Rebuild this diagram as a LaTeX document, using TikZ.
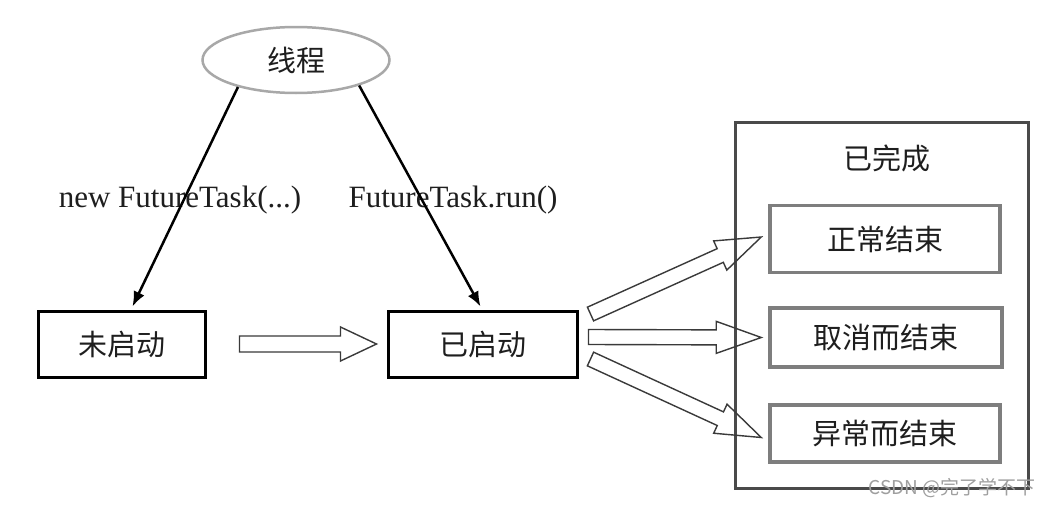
\documentclass[tikz,border=0pt]{standalone}
\usepackage{fontspec}
\setmainfont{Liberation Serif}
\newfontfamily\cjk{Noto Sans CJK SC}
\usetikzlibrary{calc,arrows.meta,shapes.geometric}
\definecolor{ink}{HTML}{1E1E1E}
\definecolor{ellgray}{HTML}{A8A8A8}
\definecolor{outergray}{HTML}{4A4A4A}
\definecolor{innergray}{HTML}{7E7E7E}
\definecolor{arrgray}{HTML}{3A3A3A}
% tail, tip, shaft half width, head half width, head length
\newcommand\hollowarr[5]{%
  \coordinate (hb) at ($(#2)!#5!(#1)$);
  \draw[harrow] ($(#1)!#3!90:(#2)$) -- ($(hb)!#3!90:(#2)$) -- ($(hb)!#4!90:(#2)$)
    -- (#2) -- ($(hb)!#4!-90:(#2)$) -- ($(hb)!#3!-90:(#2)$) -- ($(#1)!#3!-90:(#2)$) -- cycle;
}
\begin{document}
\begin{tikzpicture}[x=1pt,y=-1pt,
  every node/.style={inner sep=0pt, text=ink},
  cn/.style={font=\cjk\fontsize{29}{32}\selectfont},
  lat/.style={font=\fontsize{31}{34}\selectfont},
  thread/.style={ellipse, draw=ellgray, line width=2.5pt, minimum width=187pt, minimum height=66pt, cn},
  statebox/.style={draw=black, line width=3pt, minimum height=66pt, cn},
  outerbox/.style={draw=outergray, line width=3pt, minimum width=293pt, minimum height=366pt},
  innerbox/.style={draw=innergray, line width=3.5pt, minimum width=230pt, cn},
  conn/.style={draw=black, line width=2.5pt, -{Latex[length=15pt,width=12pt]}},
  harrow/.style={draw=arrgray, line width=1.4pt, line join=miter},
  wmark/.style={font=\cjk\fontsize{19}{21}\selectfont, text=gray!75}
]
\path[fill=white] (0,0) rectangle (1053,506);
\useasboundingbox (0,0) rectangle (1053,506);

\node[thread] (th) at (296,60) {线程};
\node[statebox, minimum width=167pt] (un) at (121.5,344) {未启动};
\node[statebox, minimum width=189pt] (st) at (482.5,344) {已启动};

\node[outerbox] (done) at (881.5,305) {};
\node[cn] (title) at (887,158) {已完成};
\node[innerbox, minimum height=67pt] (b1) at (885,239) {正常结束};
\node[innerbox, minimum height=59pt, minimum width=232pt] (b2) at (886,337.5) {取消而结束};
\node[innerbox, minimum height=57pt] (b3) at (885,433.5) {异常而结束};

\node[lat] (l1) at (180,200) {new FutureTask(...)};
\node[lat] (l2) at (453,200) {FutureTask.run()};

\draw[conn] (th.205) -- ($(un.north)+(11,-3)$);
\draw[conn] (th.-22) -- ($(st.north)+(-2,-3)$);

\coordinate (a0t) at ($(un.east)+(33,0)$);
\coordinate (a0p) at ($(st.west)+(-10,0)$);
\hollowarr{a0t}{a0p}{8pt}{17pt}{36pt}

\coordinate (a1t) at ($(st.east)+(12,-30)$);
\coordinate (a1p) at ($(b1.west)+(-7,-2)$);
\hollowarr{a1t}{a1p}{7.5pt}{16pt}{45pt}

\coordinate (a2t) at ($(st.east)+(10,-7)$);
\coordinate (a2p) at ($(b2.west)+(-7,0)$);
\hollowarr{a2t}{a2p}{7.5pt}{16pt}{45pt}

\coordinate (a3t) at ($(st.east)+(12,15)$);
\coordinate (a3p) at ($(b3.west)+(-7,4)$);
\hollowarr{a3t}{a3p}{7.5pt}{16pt}{45pt}

\node[wmark] (wm) at (952,488) {CSDN @完了学不下};
\end{tikzpicture}
\end{document}
